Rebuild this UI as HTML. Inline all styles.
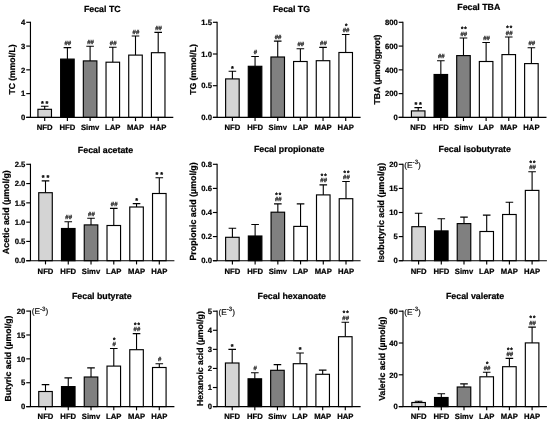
<!DOCTYPE html>
<html><head><meta charset="utf-8"><title>Fecal lipids and SCFA</title>
<style>
html,body{margin:0;padding:0;background:#fff;}
body{width:550px;height:424px;overflow:hidden;}
svg{display:block;font-family:"Liberation Sans", sans-serif;text-rendering:geometricPrecision;}
.b{font-weight:bold;stroke:#000;stroke-width:0.22px;}
</style></head><body>
<svg width="550" height="424" viewBox="0 0 550 424">
<rect width="550" height="424" fill="#fff"/>
<g><text x="102.3" y="11.8" text-anchor="middle" font-size="8.8" class="b">Fecal TC</text>
<path d="M44.7 109.3V106.2M40.9 106.2H48.5" stroke="#000" stroke-width="1.1" fill="none"/>
<rect x="37.93" y="109.3" width="13.55" height="8.1" fill="#d4d4d4" stroke="#000" stroke-width="1.15"/>
<path d="M44.7 117.4v3.7" stroke="#000" stroke-width="1.15"/>
<text x="44.7" y="130.2" text-anchor="middle" font-size="7.7" class="b">NFD</text>
<text x="45.6" y="105.5" text-anchor="middle" font-size="7.2" font-weight="bold" letter-spacing="1.8" fill="#000" stroke="#000" stroke-width="0.3">**</text>
<path d="M67.4 59.1V47.6M63.6 47.6H71.2" stroke="#000" stroke-width="1.1" fill="none"/>
<rect x="60.63" y="59.1" width="13.55" height="58.3" fill="#000000" stroke="#000" stroke-width="1.15"/>
<path d="M67.4 117.4v3.7" stroke="#000" stroke-width="1.15"/>
<text x="67.4" y="130.2" text-anchor="middle" font-size="7.7" class="b">HFD</text>
<text x="67.8" y="45.1" text-anchor="middle" font-size="6.0" font-weight="bold" fill="#333" stroke="#333" stroke-width="0.3">##</text>
<path d="M90.1 60.9V46.2M86.3 46.2H93.9" stroke="#000" stroke-width="1.1" fill="none"/>
<rect x="83.33" y="60.9" width="13.55" height="56.5" fill="#808080" stroke="#000" stroke-width="1.15"/>
<path d="M90.1 117.4v3.7" stroke="#000" stroke-width="1.15"/>
<text x="90.1" y="130.2" text-anchor="middle" font-size="7.7" class="b">Simv</text>
<text x="90.5" y="43.7" text-anchor="middle" font-size="6.0" font-weight="bold" fill="#333" stroke="#333" stroke-width="0.3">##</text>
<path d="M112.8 62.2V47.3M109 47.3H116.6" stroke="#000" stroke-width="1.1" fill="none"/>
<rect x="106.03" y="62.2" width="13.55" height="55.2" fill="#ffffff" stroke="#000" stroke-width="1.15"/>
<path d="M112.8 117.4v3.7" stroke="#000" stroke-width="1.15"/>
<text x="112.8" y="130.2" text-anchor="middle" font-size="7.7" class="b">LAP</text>
<text x="113.2" y="44.8" text-anchor="middle" font-size="6.0" font-weight="bold" fill="#333" stroke="#333" stroke-width="0.3">##</text>
<path d="M135.5 55.1V36M131.7 36H139.3" stroke="#000" stroke-width="1.1" fill="none"/>
<rect x="128.72" y="55.1" width="13.55" height="62.3" fill="#ffffff" stroke="#000" stroke-width="1.15"/>
<path d="M135.5 117.4v3.7" stroke="#000" stroke-width="1.15"/>
<text x="135.5" y="130.2" text-anchor="middle" font-size="7.7" class="b">MAP</text>
<text x="135.9" y="33.5" text-anchor="middle" font-size="6.0" font-weight="bold" fill="#333" stroke="#333" stroke-width="0.3">##</text>
<path d="M158.2 52.7V32.4M154.4 32.4H162" stroke="#000" stroke-width="1.1" fill="none"/>
<rect x="151.42" y="52.7" width="13.55" height="64.7" fill="#ffffff" stroke="#000" stroke-width="1.15"/>
<path d="M158.2 117.4v3.7" stroke="#000" stroke-width="1.15"/>
<text x="158.2" y="130.2" text-anchor="middle" font-size="7.7" class="b">HAP</text>
<text x="158.6" y="29.9" text-anchor="middle" font-size="6.0" font-weight="bold" fill="#333" stroke="#333" stroke-width="0.3">##</text>
<path d="M30.45 21.73V117.4M26.25 117.4H173.3" stroke="#000" stroke-width="1.15" fill="none"/>
<path d="M26.25 22.3H30.45" stroke="#000" stroke-width="1.15"/>
<text x="25.35" y="25" text-anchor="end" font-size="7.7" class="b">4</text>
<path d="M26.25 46.08H30.45" stroke="#000" stroke-width="1.15"/>
<text x="25.35" y="48.78" text-anchor="end" font-size="7.7" class="b">3</text>
<path d="M26.25 69.85H30.45" stroke="#000" stroke-width="1.15"/>
<text x="25.35" y="72.55" text-anchor="end" font-size="7.7" class="b">2</text>
<path d="M26.25 93.62H30.45" stroke="#000" stroke-width="1.15"/>
<text x="25.35" y="96.33" text-anchor="end" font-size="7.7" class="b">1</text>
<path d="M26.25 117.4H30.45" stroke="#000" stroke-width="1.15"/>
<text x="25.35" y="120.1" text-anchor="end" font-size="7.7" class="b">0</text>
<text transform="translate(15.4 69.55) rotate(-90)" text-anchor="middle" font-size="8.6" class="b">TC (mmol/L)</text></g>
<g><text x="291.5" y="11.8" text-anchor="middle" font-size="8.8" class="b">Fecal TG</text>
<path d="M232.4 78.9V71.3M228.6 71.3H236.2" stroke="#000" stroke-width="1.1" fill="none"/>
<rect x="225.62" y="78.9" width="13.55" height="38.5" fill="#d4d4d4" stroke="#000" stroke-width="1.15"/>
<path d="M232.4 117.4v3.7" stroke="#000" stroke-width="1.15"/>
<text x="232.4" y="130.2" text-anchor="middle" font-size="7.7" class="b">NFD</text>
<text x="232.4" y="70.6" text-anchor="middle" font-size="7.2" font-weight="bold" letter-spacing="0" fill="#000" stroke="#000" stroke-width="0.3">*</text>
<path d="M255.06 66.3V56.5M251.26 56.5H258.86" stroke="#000" stroke-width="1.1" fill="none"/>
<rect x="248.28" y="66.3" width="13.55" height="51.1" fill="#000000" stroke="#000" stroke-width="1.15"/>
<path d="M255.06 117.4v3.7" stroke="#000" stroke-width="1.15"/>
<text x="255.06" y="130.2" text-anchor="middle" font-size="7.7" class="b">HFD</text>
<text x="255.46" y="54" text-anchor="middle" font-size="6.0" font-weight="bold" fill="#333" stroke="#333" stroke-width="0.3">#</text>
<path d="M277.72 57V41.1M273.92 41.1H281.52" stroke="#000" stroke-width="1.1" fill="none"/>
<rect x="270.94" y="57" width="13.55" height="60.4" fill="#808080" stroke="#000" stroke-width="1.15"/>
<path d="M277.72 117.4v3.7" stroke="#000" stroke-width="1.15"/>
<text x="277.72" y="130.2" text-anchor="middle" font-size="7.7" class="b">Simv</text>
<text x="278.12" y="38.6" text-anchor="middle" font-size="6.0" font-weight="bold" fill="#333" stroke="#333" stroke-width="0.3">##</text>
<path d="M300.38 61.5V48.7M296.58 48.7H304.18" stroke="#000" stroke-width="1.1" fill="none"/>
<rect x="293.6" y="61.5" width="13.55" height="55.9" fill="#ffffff" stroke="#000" stroke-width="1.15"/>
<path d="M300.38 117.4v3.7" stroke="#000" stroke-width="1.15"/>
<text x="300.38" y="130.2" text-anchor="middle" font-size="7.7" class="b">LAP</text>
<text x="300.78" y="46.2" text-anchor="middle" font-size="6.0" font-weight="bold" fill="#333" stroke="#333" stroke-width="0.3">##</text>
<path d="M323.04 60.7V47.4M319.24 47.4H326.84" stroke="#000" stroke-width="1.1" fill="none"/>
<rect x="316.26" y="60.7" width="13.55" height="56.7" fill="#ffffff" stroke="#000" stroke-width="1.15"/>
<path d="M323.04 117.4v3.7" stroke="#000" stroke-width="1.15"/>
<text x="323.04" y="130.2" text-anchor="middle" font-size="7.7" class="b">MAP</text>
<text x="323.44" y="44.9" text-anchor="middle" font-size="6.0" font-weight="bold" fill="#333" stroke="#333" stroke-width="0.3">##</text>
<path d="M345.7 52.5V34.5M341.9 34.5H349.5" stroke="#000" stroke-width="1.1" fill="none"/>
<rect x="338.92" y="52.5" width="13.55" height="64.9" fill="#ffffff" stroke="#000" stroke-width="1.15"/>
<path d="M345.7 117.4v3.7" stroke="#000" stroke-width="1.15"/>
<text x="345.7" y="130.2" text-anchor="middle" font-size="7.7" class="b">HAP</text>
<text x="346.1" y="32" text-anchor="middle" font-size="6.0" font-weight="bold" fill="#333" stroke="#333" stroke-width="0.3">##</text>
<text x="346.1" y="27.7" text-anchor="middle" font-size="6.2" font-weight="bold" letter-spacing="0" fill="#000" stroke="#000" stroke-width="0.3">*</text>
<path d="M217.1 21.73V117.4M212.9 117.4H360.6" stroke="#000" stroke-width="1.15" fill="none"/>
<path d="M212.9 22.3H217.1" stroke="#000" stroke-width="1.15"/>
<text x="212" y="25" text-anchor="end" font-size="7.7" class="b">1.5</text>
<path d="M212.9 54H217.1" stroke="#000" stroke-width="1.15"/>
<text x="212" y="56.7" text-anchor="end" font-size="7.7" class="b">1.0</text>
<path d="M212.9 85.7H217.1" stroke="#000" stroke-width="1.15"/>
<text x="212" y="88.4" text-anchor="end" font-size="7.7" class="b">0.5</text>
<path d="M212.9 117.4H217.1" stroke="#000" stroke-width="1.15"/>
<text x="212" y="120.1" text-anchor="end" font-size="7.7" class="b">0.0</text>
<text transform="translate(196.4 69.55) rotate(-90)" text-anchor="middle" font-size="8.6" class="b">TG (mmol/L)</text></g>
<g><text x="478.8" y="9.6" text-anchor="middle" font-size="8.8" class="b">Fecal TBA</text>
<path d="M418.2 110.9V107.6M414.4 107.6H422" stroke="#000" stroke-width="1.1" fill="none"/>
<rect x="411.42" y="110.9" width="13.55" height="6.5" fill="#d4d4d4" stroke="#000" stroke-width="1.15"/>
<path d="M418.2 117.4v3.7" stroke="#000" stroke-width="1.15"/>
<text x="418.2" y="130.2" text-anchor="middle" font-size="7.7" class="b">NFD</text>
<text x="419.1" y="106.9" text-anchor="middle" font-size="7.2" font-weight="bold" letter-spacing="1.8" fill="#000" stroke="#000" stroke-width="0.3">**</text>
<path d="M440.84 74.5V60.8M437.04 60.8H444.64" stroke="#000" stroke-width="1.1" fill="none"/>
<rect x="434.06" y="74.5" width="13.55" height="42.9" fill="#000000" stroke="#000" stroke-width="1.15"/>
<path d="M440.84 117.4v3.7" stroke="#000" stroke-width="1.15"/>
<text x="440.84" y="130.2" text-anchor="middle" font-size="7.7" class="b">HFD</text>
<text x="441.24" y="58.3" text-anchor="middle" font-size="6.0" font-weight="bold" fill="#333" stroke="#333" stroke-width="0.3">##</text>
<path d="M463.48 55.6V38M459.68 38H467.28" stroke="#000" stroke-width="1.1" fill="none"/>
<rect x="456.7" y="55.6" width="13.55" height="61.8" fill="#808080" stroke="#000" stroke-width="1.15"/>
<path d="M463.48 117.4v3.7" stroke="#000" stroke-width="1.15"/>
<text x="463.48" y="130.2" text-anchor="middle" font-size="7.7" class="b">Simv</text>
<text x="463.88" y="35.5" text-anchor="middle" font-size="6.0" font-weight="bold" fill="#333" stroke="#333" stroke-width="0.3">##</text>
<text x="464.38" y="31.2" text-anchor="middle" font-size="6.2" font-weight="bold" letter-spacing="1.0" fill="#000" stroke="#000" stroke-width="0.3">**</text>
<path d="M486.12 61.5V42.5M482.32 42.5H489.92" stroke="#000" stroke-width="1.1" fill="none"/>
<rect x="479.34" y="61.5" width="13.55" height="55.9" fill="#ffffff" stroke="#000" stroke-width="1.15"/>
<path d="M486.12 117.4v3.7" stroke="#000" stroke-width="1.15"/>
<text x="486.12" y="130.2" text-anchor="middle" font-size="7.7" class="b">LAP</text>
<text x="486.52" y="40" text-anchor="middle" font-size="6.0" font-weight="bold" fill="#333" stroke="#333" stroke-width="0.3">##</text>
<path d="M508.76 54.6V37M504.96 37H512.56" stroke="#000" stroke-width="1.1" fill="none"/>
<rect x="501.98" y="54.6" width="13.55" height="62.8" fill="#ffffff" stroke="#000" stroke-width="1.15"/>
<path d="M508.76 117.4v3.7" stroke="#000" stroke-width="1.15"/>
<text x="508.76" y="130.2" text-anchor="middle" font-size="7.7" class="b">MAP</text>
<text x="509.16" y="34.5" text-anchor="middle" font-size="6.0" font-weight="bold" fill="#333" stroke="#333" stroke-width="0.3">##</text>
<text x="509.66" y="30.2" text-anchor="middle" font-size="6.2" font-weight="bold" letter-spacing="1.0" fill="#000" stroke="#000" stroke-width="0.3">**</text>
<path d="M531.4 63.6V47.7M527.6 47.7H535.2" stroke="#000" stroke-width="1.1" fill="none"/>
<rect x="524.62" y="63.6" width="13.55" height="53.8" fill="#ffffff" stroke="#000" stroke-width="1.15"/>
<path d="M531.4 117.4v3.7" stroke="#000" stroke-width="1.15"/>
<text x="531.4" y="130.2" text-anchor="middle" font-size="7.7" class="b">HAP</text>
<text x="531.8" y="45.2" text-anchor="middle" font-size="6.0" font-weight="bold" fill="#333" stroke="#333" stroke-width="0.3">##</text>
<path d="M402.9 21.73V117.4M398.7 117.4H546.5" stroke="#000" stroke-width="1.15" fill="none"/>
<path d="M398.7 22.3H402.9" stroke="#000" stroke-width="1.15"/>
<text x="397.8" y="25" text-anchor="end" font-size="7.7" class="b">800</text>
<path d="M398.7 46.08H402.9" stroke="#000" stroke-width="1.15"/>
<text x="397.8" y="48.78" text-anchor="end" font-size="7.7" class="b">600</text>
<path d="M398.7 69.85H402.9" stroke="#000" stroke-width="1.15"/>
<text x="397.8" y="72.55" text-anchor="end" font-size="7.7" class="b">400</text>
<path d="M398.7 93.62H402.9" stroke="#000" stroke-width="1.15"/>
<text x="397.8" y="96.33" text-anchor="end" font-size="7.7" class="b">200</text>
<path d="M398.7 117.4H402.9" stroke="#000" stroke-width="1.15"/>
<text x="397.8" y="120.1" text-anchor="end" font-size="7.7" class="b">0</text>
<text transform="translate(380 69.55) rotate(-90)" text-anchor="middle" font-size="8.6" class="b">TBA (µmol/gprot)</text></g>
<g><text x="105.5" y="152.5" text-anchor="middle" font-size="8.8" class="b">Fecal acetate</text>
<path d="M45.5 192.7V180.9M41.7 180.9H49.3" stroke="#000" stroke-width="1.1" fill="none"/>
<rect x="38.73" y="192.7" width="13.55" height="68" fill="#d4d4d4" stroke="#000" stroke-width="1.15"/>
<path d="M45.5 260.7v3.7" stroke="#000" stroke-width="1.15"/>
<text x="45.5" y="273.5" text-anchor="middle" font-size="7.7" class="b">NFD</text>
<text x="46.4" y="180.2" text-anchor="middle" font-size="7.2" font-weight="bold" letter-spacing="1.8" fill="#000" stroke="#000" stroke-width="0.3">**</text>
<path d="M68.26 228.5V221.8M64.46 221.8H72.06" stroke="#000" stroke-width="1.1" fill="none"/>
<rect x="61.49" y="228.5" width="13.55" height="32.2" fill="#000000" stroke="#000" stroke-width="1.15"/>
<path d="M68.26 260.7v3.7" stroke="#000" stroke-width="1.15"/>
<text x="68.26" y="273.5" text-anchor="middle" font-size="7.7" class="b">HFD</text>
<text x="68.66" y="219.3" text-anchor="middle" font-size="6.0" font-weight="bold" fill="#333" stroke="#333" stroke-width="0.3">##</text>
<path d="M91.02 224.9V218.2M87.22 218.2H94.82" stroke="#000" stroke-width="1.1" fill="none"/>
<rect x="84.25" y="224.9" width="13.55" height="35.8" fill="#808080" stroke="#000" stroke-width="1.15"/>
<path d="M91.02 260.7v3.7" stroke="#000" stroke-width="1.15"/>
<text x="91.02" y="273.5" text-anchor="middle" font-size="7.7" class="b">Simv</text>
<text x="91.42" y="215.7" text-anchor="middle" font-size="6.0" font-weight="bold" fill="#333" stroke="#333" stroke-width="0.3">##</text>
<path d="M113.78 225.5V208.4M109.98 208.4H117.58" stroke="#000" stroke-width="1.1" fill="none"/>
<rect x="107.01" y="225.5" width="13.55" height="35.2" fill="#ffffff" stroke="#000" stroke-width="1.15"/>
<path d="M113.78 260.7v3.7" stroke="#000" stroke-width="1.15"/>
<text x="113.78" y="273.5" text-anchor="middle" font-size="7.7" class="b">LAP</text>
<text x="114.18" y="205.9" text-anchor="middle" font-size="6.0" font-weight="bold" fill="#333" stroke="#333" stroke-width="0.3">##</text>
<path d="M136.54 207V203.6M132.74 203.6H140.34" stroke="#000" stroke-width="1.1" fill="none"/>
<rect x="129.77" y="207" width="13.55" height="53.7" fill="#ffffff" stroke="#000" stroke-width="1.15"/>
<path d="M136.54 260.7v3.7" stroke="#000" stroke-width="1.15"/>
<text x="136.54" y="273.5" text-anchor="middle" font-size="7.7" class="b">MAP</text>
<text x="136.54" y="202.9" text-anchor="middle" font-size="7.2" font-weight="bold" letter-spacing="0" fill="#000" stroke="#000" stroke-width="0.3">*</text>
<path d="M159.3 193.5V177.7M155.5 177.7H163.1" stroke="#000" stroke-width="1.1" fill="none"/>
<rect x="152.53" y="193.5" width="13.55" height="67.2" fill="#ffffff" stroke="#000" stroke-width="1.15"/>
<path d="M159.3 260.7v3.7" stroke="#000" stroke-width="1.15"/>
<text x="159.3" y="273.5" text-anchor="middle" font-size="7.7" class="b">HAP</text>
<text x="160.2" y="177" text-anchor="middle" font-size="7.2" font-weight="bold" letter-spacing="1.8" fill="#000" stroke="#000" stroke-width="0.3">**</text>
<path d="M30.45 163.73V260.7M26.25 260.7H174.4" stroke="#000" stroke-width="1.15" fill="none"/>
<path d="M26.25 164.3H30.45" stroke="#000" stroke-width="1.15"/>
<text x="25.35" y="167" text-anchor="end" font-size="7.7" class="b">2.5</text>
<path d="M26.25 183.58H30.45" stroke="#000" stroke-width="1.15"/>
<text x="25.35" y="186.28" text-anchor="end" font-size="7.7" class="b">2.0</text>
<path d="M26.25 202.86H30.45" stroke="#000" stroke-width="1.15"/>
<text x="25.35" y="205.56" text-anchor="end" font-size="7.7" class="b">1.5</text>
<path d="M26.25 222.14H30.45" stroke="#000" stroke-width="1.15"/>
<text x="25.35" y="224.84" text-anchor="end" font-size="7.7" class="b">1.0</text>
<path d="M26.25 241.42H30.45" stroke="#000" stroke-width="1.15"/>
<text x="25.35" y="244.12" text-anchor="end" font-size="7.7" class="b">0.5</text>
<path d="M26.25 260.7H30.45" stroke="#000" stroke-width="1.15"/>
<text x="25.35" y="263.4" text-anchor="end" font-size="7.7" class="b">0.0</text>
<text transform="translate(9.3 212.2) rotate(-90)" text-anchor="middle" font-size="8.9" class="b">Acetic acid (µmol/g)</text></g>
<g><text x="289.1" y="152.4" text-anchor="middle" font-size="8.8" class="b">Fecal propionate</text>
<path d="M232.4 237.3V228.2M228.6 228.2H236.2" stroke="#000" stroke-width="1.1" fill="none"/>
<rect x="225.62" y="237.3" width="13.55" height="23.4" fill="#d4d4d4" stroke="#000" stroke-width="1.15"/>
<path d="M232.4 260.7v3.7" stroke="#000" stroke-width="1.15"/>
<text x="232.4" y="273.5" text-anchor="middle" font-size="7.7" class="b">NFD</text>
<path d="M255.12 236V224.5M251.32 224.5H258.92" stroke="#000" stroke-width="1.1" fill="none"/>
<rect x="248.34" y="236" width="13.55" height="24.7" fill="#000000" stroke="#000" stroke-width="1.15"/>
<path d="M255.12 260.7v3.7" stroke="#000" stroke-width="1.15"/>
<text x="255.12" y="273.5" text-anchor="middle" font-size="7.7" class="b">HFD</text>
<path d="M277.84 212.2V203.9M274.04 203.9H281.64" stroke="#000" stroke-width="1.1" fill="none"/>
<rect x="271.06" y="212.2" width="13.55" height="48.5" fill="#808080" stroke="#000" stroke-width="1.15"/>
<path d="M277.84 260.7v3.7" stroke="#000" stroke-width="1.15"/>
<text x="277.84" y="273.5" text-anchor="middle" font-size="7.7" class="b">Simv</text>
<text x="278.24" y="201.4" text-anchor="middle" font-size="6.0" font-weight="bold" fill="#333" stroke="#333" stroke-width="0.3">##</text>
<text x="278.74" y="197.1" text-anchor="middle" font-size="6.2" font-weight="bold" letter-spacing="1.0" fill="#000" stroke="#000" stroke-width="0.3">**</text>
<path d="M300.56 226.4V203.9M296.76 203.9H304.36" stroke="#000" stroke-width="1.1" fill="none"/>
<rect x="293.78" y="226.4" width="13.55" height="34.3" fill="#ffffff" stroke="#000" stroke-width="1.15"/>
<path d="M300.56 260.7v3.7" stroke="#000" stroke-width="1.15"/>
<text x="300.56" y="273.5" text-anchor="middle" font-size="7.7" class="b">LAP</text>
<path d="M323.28 194.9V184.9M319.48 184.9H327.08" stroke="#000" stroke-width="1.1" fill="none"/>
<rect x="316.5" y="194.9" width="13.55" height="65.8" fill="#ffffff" stroke="#000" stroke-width="1.15"/>
<path d="M323.28 260.7v3.7" stroke="#000" stroke-width="1.15"/>
<text x="323.28" y="273.5" text-anchor="middle" font-size="7.7" class="b">MAP</text>
<text x="323.68" y="182.4" text-anchor="middle" font-size="6.0" font-weight="bold" fill="#333" stroke="#333" stroke-width="0.3">##</text>
<text x="324.18" y="178.1" text-anchor="middle" font-size="6.2" font-weight="bold" letter-spacing="1.0" fill="#000" stroke="#000" stroke-width="0.3">**</text>
<path d="M346 198.7V181.5M342.2 181.5H349.8" stroke="#000" stroke-width="1.1" fill="none"/>
<rect x="339.22" y="198.7" width="13.55" height="62" fill="#ffffff" stroke="#000" stroke-width="1.15"/>
<path d="M346 260.7v3.7" stroke="#000" stroke-width="1.15"/>
<text x="346" y="273.5" text-anchor="middle" font-size="7.7" class="b">HAP</text>
<text x="346.4" y="179" text-anchor="middle" font-size="6.0" font-weight="bold" fill="#333" stroke="#333" stroke-width="0.3">##</text>
<text x="346.9" y="174.7" text-anchor="middle" font-size="6.2" font-weight="bold" letter-spacing="1.0" fill="#000" stroke="#000" stroke-width="0.3">**</text>
<path d="M217.1 163.73V260.7M212.9 260.7H360.6" stroke="#000" stroke-width="1.15" fill="none"/>
<path d="M212.9 164.3H217.1" stroke="#000" stroke-width="1.15"/>
<text x="212" y="167" text-anchor="end" font-size="7.7" class="b">0.8</text>
<path d="M212.9 188.4H217.1" stroke="#000" stroke-width="1.15"/>
<text x="212" y="191.1" text-anchor="end" font-size="7.7" class="b">0.6</text>
<path d="M212.9 212.5H217.1" stroke="#000" stroke-width="1.15"/>
<text x="212" y="215.2" text-anchor="end" font-size="7.7" class="b">0.4</text>
<path d="M212.9 236.6H217.1" stroke="#000" stroke-width="1.15"/>
<text x="212" y="239.3" text-anchor="end" font-size="7.7" class="b">0.2</text>
<path d="M212.9 260.7H217.1" stroke="#000" stroke-width="1.15"/>
<text x="212" y="263.4" text-anchor="end" font-size="7.7" class="b">0.0</text>
<text transform="translate(196.2 211.4) rotate(-90)" text-anchor="middle" font-size="8.9" class="b">Propionic acid (µmol/g)</text></g>
<g><text x="474.7" y="152.4" text-anchor="middle" font-size="8.8" class="b">Fecal isobutyrate</text>
<path d="M418.6 226.7V213.3M414.8 213.3H422.4" stroke="#000" stroke-width="1.1" fill="none"/>
<rect x="411.82" y="226.7" width="13.55" height="34" fill="#d4d4d4" stroke="#000" stroke-width="1.15"/>
<path d="M418.6 260.7v3.7" stroke="#000" stroke-width="1.15"/>
<text x="418.6" y="273.5" text-anchor="middle" font-size="7.7" class="b">NFD</text>
<path d="M441.3 230.9V218.7M437.5 218.7H445.1" stroke="#000" stroke-width="1.1" fill="none"/>
<rect x="434.52" y="230.9" width="13.55" height="29.8" fill="#000000" stroke="#000" stroke-width="1.15"/>
<path d="M441.3 260.7v3.7" stroke="#000" stroke-width="1.15"/>
<text x="441.3" y="273.5" text-anchor="middle" font-size="7.7" class="b">HFD</text>
<path d="M464 223.6V217.1M460.2 217.1H467.8" stroke="#000" stroke-width="1.1" fill="none"/>
<rect x="457.22" y="223.6" width="13.55" height="37.1" fill="#808080" stroke="#000" stroke-width="1.15"/>
<path d="M464 260.7v3.7" stroke="#000" stroke-width="1.15"/>
<text x="464" y="273.5" text-anchor="middle" font-size="7.7" class="b">Simv</text>
<path d="M486.7 231.5V215.1M482.9 215.1H490.5" stroke="#000" stroke-width="1.1" fill="none"/>
<rect x="479.93" y="231.5" width="13.55" height="29.2" fill="#ffffff" stroke="#000" stroke-width="1.15"/>
<path d="M486.7 260.7v3.7" stroke="#000" stroke-width="1.15"/>
<text x="486.7" y="273.5" text-anchor="middle" font-size="7.7" class="b">LAP</text>
<path d="M509.4 214.5V202.2M505.6 202.2H513.2" stroke="#000" stroke-width="1.1" fill="none"/>
<rect x="502.62" y="214.5" width="13.55" height="46.2" fill="#ffffff" stroke="#000" stroke-width="1.15"/>
<path d="M509.4 260.7v3.7" stroke="#000" stroke-width="1.15"/>
<text x="509.4" y="273.5" text-anchor="middle" font-size="7.7" class="b">MAP</text>
<path d="M532.1 190.4V171.8M528.3 171.8H535.9" stroke="#000" stroke-width="1.1" fill="none"/>
<rect x="525.33" y="190.4" width="13.55" height="70.3" fill="#ffffff" stroke="#000" stroke-width="1.15"/>
<path d="M532.1 260.7v3.7" stroke="#000" stroke-width="1.15"/>
<text x="532.1" y="273.5" text-anchor="middle" font-size="7.7" class="b">HAP</text>
<text x="532.5" y="169.3" text-anchor="middle" font-size="6.0" font-weight="bold" fill="#333" stroke="#333" stroke-width="0.3">##</text>
<text x="533" y="165" text-anchor="middle" font-size="6.2" font-weight="bold" letter-spacing="1.0" fill="#000" stroke="#000" stroke-width="0.3">**</text>
<path d="M403 163.73V260.7M398.8 260.7H546.9" stroke="#000" stroke-width="1.15" fill="none"/>
<path d="M398.8 164.3H403" stroke="#000" stroke-width="1.15"/>
<text x="397.9" y="167" text-anchor="end" font-size="7.7" class="b">20</text>
<path d="M398.8 188.4H403" stroke="#000" stroke-width="1.15"/>
<text x="397.9" y="191.1" text-anchor="end" font-size="7.7" class="b">15</text>
<path d="M398.8 212.5H403" stroke="#000" stroke-width="1.15"/>
<text x="397.9" y="215.2" text-anchor="end" font-size="7.7" class="b">10</text>
<path d="M398.8 236.6H403" stroke="#000" stroke-width="1.15"/>
<text x="397.9" y="239.3" text-anchor="end" font-size="7.7" class="b">5</text>
<path d="M398.8 260.7H403" stroke="#000" stroke-width="1.15"/>
<text x="397.9" y="263.4" text-anchor="end" font-size="7.7" class="b">0</text>
<text transform="translate(384.4 212.7) rotate(-90)" text-anchor="middle" font-size="8.9" class="b">Isobutyric acid (µmol/g)</text>
<text x="404.3" y="167.6" font-size="8.3" fill="#111" stroke="#111" stroke-width="0.2">(E<tspan dy="-3.7" font-size="6.2">-3</tspan><tspan dy="3.7">)</tspan></text></g>
<g><text x="101.8" y="298.7" text-anchor="middle" font-size="8.8" class="b">Fecal butyrate</text>
<path d="M45.5 391.5V384.6M41.7 384.6H49.3" stroke="#000" stroke-width="1.1" fill="none"/>
<rect x="38.73" y="391.5" width="13.55" height="15.1" fill="#d4d4d4" stroke="#000" stroke-width="1.15"/>
<path d="M45.5 406.6v3.7" stroke="#000" stroke-width="1.15"/>
<text x="45.5" y="419.4" text-anchor="middle" font-size="7.7" class="b">NFD</text>
<path d="M68.26 386.6V377.9M64.46 377.9H72.06" stroke="#000" stroke-width="1.1" fill="none"/>
<rect x="61.49" y="386.6" width="13.55" height="20" fill="#000000" stroke="#000" stroke-width="1.15"/>
<path d="M68.26 406.6v3.7" stroke="#000" stroke-width="1.15"/>
<text x="68.26" y="419.4" text-anchor="middle" font-size="7.7" class="b">HFD</text>
<path d="M91.02 377V367.9M87.22 367.9H94.82" stroke="#000" stroke-width="1.1" fill="none"/>
<rect x="84.25" y="377" width="13.55" height="29.6" fill="#808080" stroke="#000" stroke-width="1.15"/>
<path d="M91.02 406.6v3.7" stroke="#000" stroke-width="1.15"/>
<text x="91.02" y="419.4" text-anchor="middle" font-size="7.7" class="b">Simv</text>
<path d="M113.78 366.1V348.5M109.98 348.5H117.58" stroke="#000" stroke-width="1.1" fill="none"/>
<rect x="107.01" y="366.1" width="13.55" height="40.5" fill="#ffffff" stroke="#000" stroke-width="1.15"/>
<path d="M113.78 406.6v3.7" stroke="#000" stroke-width="1.15"/>
<text x="113.78" y="419.4" text-anchor="middle" font-size="7.7" class="b">LAP</text>
<text x="114.18" y="346" text-anchor="middle" font-size="6.0" font-weight="bold" fill="#333" stroke="#333" stroke-width="0.3">#</text>
<text x="114.18" y="341.7" text-anchor="middle" font-size="6.2" font-weight="bold" letter-spacing="0" fill="#000" stroke="#000" stroke-width="0.3">*</text>
<path d="M136.54 349.7V333.6M132.74 333.6H140.34" stroke="#000" stroke-width="1.1" fill="none"/>
<rect x="129.77" y="349.7" width="13.55" height="56.9" fill="#ffffff" stroke="#000" stroke-width="1.15"/>
<path d="M136.54 406.6v3.7" stroke="#000" stroke-width="1.15"/>
<text x="136.54" y="419.4" text-anchor="middle" font-size="7.7" class="b">MAP</text>
<text x="136.94" y="331.1" text-anchor="middle" font-size="6.0" font-weight="bold" fill="#333" stroke="#333" stroke-width="0.3">##</text>
<text x="137.44" y="326.8" text-anchor="middle" font-size="6.2" font-weight="bold" letter-spacing="1.0" fill="#000" stroke="#000" stroke-width="0.3">**</text>
<path d="M159.3 367.5V363.7M155.5 363.7H163.1" stroke="#000" stroke-width="1.1" fill="none"/>
<rect x="152.53" y="367.5" width="13.55" height="39.1" fill="#ffffff" stroke="#000" stroke-width="1.15"/>
<path d="M159.3 406.6v3.7" stroke="#000" stroke-width="1.15"/>
<text x="159.3" y="419.4" text-anchor="middle" font-size="7.7" class="b">HAP</text>
<text x="159.7" y="361.2" text-anchor="middle" font-size="6.0" font-weight="bold" fill="#333" stroke="#333" stroke-width="0.3">#</text>
<path d="M30.45 310.53V406.6M26.25 406.6H174.4" stroke="#000" stroke-width="1.15" fill="none"/>
<path d="M26.25 311.1H30.45" stroke="#000" stroke-width="1.15"/>
<text x="25.35" y="313.8" text-anchor="end" font-size="7.7" class="b">20</text>
<path d="M26.25 334.98H30.45" stroke="#000" stroke-width="1.15"/>
<text x="25.35" y="337.68" text-anchor="end" font-size="7.7" class="b">15</text>
<path d="M26.25 358.85H30.45" stroke="#000" stroke-width="1.15"/>
<text x="25.35" y="361.55" text-anchor="end" font-size="7.7" class="b">10</text>
<path d="M26.25 382.73H30.45" stroke="#000" stroke-width="1.15"/>
<text x="25.35" y="385.43" text-anchor="end" font-size="7.7" class="b">5</text>
<path d="M26.25 406.6H30.45" stroke="#000" stroke-width="1.15"/>
<text x="25.35" y="409.3" text-anchor="end" font-size="7.7" class="b">0</text>
<text transform="translate(11.4 358.55) rotate(-90)" text-anchor="middle" font-size="8.7" class="b">Butyric acid (µmol/g)</text>
<text x="31.75" y="314.4" font-size="8.3" fill="#111" stroke="#111" stroke-width="0.2">(E<tspan dy="-3.7" font-size="6.2">-3</tspan><tspan dy="3.7">)</tspan></text></g>
<g><text x="291.8" y="298.6" text-anchor="middle" font-size="8.8" class="b">Fecal hexanoate</text>
<path d="M232.2 363V349.4M228.4 349.4H236" stroke="#000" stroke-width="1.1" fill="none"/>
<rect x="225.42" y="363" width="13.55" height="43.6" fill="#d4d4d4" stroke="#000" stroke-width="1.15"/>
<path d="M232.2 406.6v3.7" stroke="#000" stroke-width="1.15"/>
<text x="232.2" y="419.4" text-anchor="middle" font-size="7.7" class="b">NFD</text>
<text x="232.2" y="348.7" text-anchor="middle" font-size="7.2" font-weight="bold" letter-spacing="0" fill="#000" stroke="#000" stroke-width="0.3">*</text>
<path d="M254.82 378.8V372.8M251.02 372.8H258.62" stroke="#000" stroke-width="1.1" fill="none"/>
<rect x="248.04" y="378.8" width="13.55" height="27.8" fill="#000000" stroke="#000" stroke-width="1.15"/>
<path d="M254.82 406.6v3.7" stroke="#000" stroke-width="1.15"/>
<text x="254.82" y="419.4" text-anchor="middle" font-size="7.7" class="b">HFD</text>
<text x="255.22" y="370.3" text-anchor="middle" font-size="6.0" font-weight="bold" fill="#333" stroke="#333" stroke-width="0.3">#</text>
<path d="M277.44 370.3V364.6M273.64 364.6H281.24" stroke="#000" stroke-width="1.1" fill="none"/>
<rect x="270.66" y="370.3" width="13.55" height="36.3" fill="#808080" stroke="#000" stroke-width="1.15"/>
<path d="M277.44 406.6v3.7" stroke="#000" stroke-width="1.15"/>
<text x="277.44" y="419.4" text-anchor="middle" font-size="7.7" class="b">Simv</text>
<path d="M300.06 363.7V353M296.26 353H303.86" stroke="#000" stroke-width="1.1" fill="none"/>
<rect x="293.28" y="363.7" width="13.55" height="42.9" fill="#ffffff" stroke="#000" stroke-width="1.15"/>
<path d="M300.06 406.6v3.7" stroke="#000" stroke-width="1.15"/>
<text x="300.06" y="419.4" text-anchor="middle" font-size="7.7" class="b">LAP</text>
<text x="300.06" y="352.3" text-anchor="middle" font-size="7.2" font-weight="bold" letter-spacing="0" fill="#000" stroke="#000" stroke-width="0.3">*</text>
<path d="M322.68 374.3V370.1M318.88 370.1H326.48" stroke="#000" stroke-width="1.1" fill="none"/>
<rect x="315.9" y="374.3" width="13.55" height="32.3" fill="#ffffff" stroke="#000" stroke-width="1.15"/>
<path d="M322.68 406.6v3.7" stroke="#000" stroke-width="1.15"/>
<text x="322.68" y="419.4" text-anchor="middle" font-size="7.7" class="b">MAP</text>
<path d="M345.3 336.7V322.2M341.5 322.2H349.1" stroke="#000" stroke-width="1.1" fill="none"/>
<rect x="338.52" y="336.7" width="13.55" height="69.9" fill="#ffffff" stroke="#000" stroke-width="1.15"/>
<path d="M345.3 406.6v3.7" stroke="#000" stroke-width="1.15"/>
<text x="345.3" y="419.4" text-anchor="middle" font-size="7.7" class="b">HAP</text>
<text x="345.7" y="319.7" text-anchor="middle" font-size="6.0" font-weight="bold" fill="#333" stroke="#333" stroke-width="0.3">##</text>
<text x="346.2" y="315.4" text-anchor="middle" font-size="6.2" font-weight="bold" letter-spacing="1.0" fill="#000" stroke="#000" stroke-width="0.3">**</text>
<path d="M217.1 310.62V406.6M212.9 406.6H360.6" stroke="#000" stroke-width="1.15" fill="none"/>
<path d="M212.9 311.2H217.1" stroke="#000" stroke-width="1.15"/>
<text x="212" y="313.9" text-anchor="end" font-size="7.7" class="b">5</text>
<path d="M212.9 330.28H217.1" stroke="#000" stroke-width="1.15"/>
<text x="212" y="332.98" text-anchor="end" font-size="7.7" class="b">4</text>
<path d="M212.9 349.36H217.1" stroke="#000" stroke-width="1.15"/>
<text x="212" y="352.06" text-anchor="end" font-size="7.7" class="b">3</text>
<path d="M212.9 368.44H217.1" stroke="#000" stroke-width="1.15"/>
<text x="212" y="371.14" text-anchor="end" font-size="7.7" class="b">2</text>
<path d="M212.9 387.52H217.1" stroke="#000" stroke-width="1.15"/>
<text x="212" y="390.22" text-anchor="end" font-size="7.7" class="b">1</text>
<path d="M212.9 406.6H217.1" stroke="#000" stroke-width="1.15"/>
<text x="212" y="409.3" text-anchor="end" font-size="7.7" class="b">0</text>
<text transform="translate(203.3 358.6) rotate(-90)" text-anchor="middle" font-size="8.7" class="b">Hexanoic acid (µmol/g)</text>
<text x="218.4" y="314.5" font-size="8.3" fill="#111" stroke="#111" stroke-width="0.2">(E<tspan dy="-3.7" font-size="6.2">-3</tspan><tspan dy="3.7">)</tspan></text></g>
<g><text x="475.1" y="298.6" text-anchor="middle" font-size="8.8" class="b">Fecal valerate</text>
<path d="M418.6 402.5V401.3M414.8 401.3H422.4" stroke="#000" stroke-width="1.1" fill="none"/>
<rect x="411.82" y="402.5" width="13.55" height="4.1" fill="#d4d4d4" stroke="#000" stroke-width="1.15"/>
<path d="M418.6 406.6v3.7" stroke="#000" stroke-width="1.15"/>
<text x="418.6" y="419.4" text-anchor="middle" font-size="7.7" class="b">NFD</text>
<path d="M441.3 397.5V393.7M437.5 393.7H445.1" stroke="#000" stroke-width="1.1" fill="none"/>
<rect x="434.52" y="397.5" width="13.55" height="9.1" fill="#000000" stroke="#000" stroke-width="1.15"/>
<path d="M441.3 406.6v3.7" stroke="#000" stroke-width="1.15"/>
<text x="441.3" y="419.4" text-anchor="middle" font-size="7.7" class="b">HFD</text>
<path d="M464 387V383.9M460.2 383.9H467.8" stroke="#000" stroke-width="1.1" fill="none"/>
<rect x="457.22" y="387" width="13.55" height="19.6" fill="#808080" stroke="#000" stroke-width="1.15"/>
<path d="M464 406.6v3.7" stroke="#000" stroke-width="1.15"/>
<text x="464" y="419.4" text-anchor="middle" font-size="7.7" class="b">Simv</text>
<path d="M486.7 376.8V372.3M482.9 372.3H490.5" stroke="#000" stroke-width="1.1" fill="none"/>
<rect x="479.93" y="376.8" width="13.55" height="29.8" fill="#ffffff" stroke="#000" stroke-width="1.15"/>
<path d="M486.7 406.6v3.7" stroke="#000" stroke-width="1.15"/>
<text x="486.7" y="419.4" text-anchor="middle" font-size="7.7" class="b">LAP</text>
<text x="487.1" y="369.8" text-anchor="middle" font-size="6.0" font-weight="bold" fill="#333" stroke="#333" stroke-width="0.3">##</text>
<text x="487.1" y="365.5" text-anchor="middle" font-size="6.2" font-weight="bold" letter-spacing="0" fill="#000" stroke="#000" stroke-width="0.3">*</text>
<path d="M509.4 366.7V358.4M505.6 358.4H513.2" stroke="#000" stroke-width="1.1" fill="none"/>
<rect x="502.62" y="366.7" width="13.55" height="39.9" fill="#ffffff" stroke="#000" stroke-width="1.15"/>
<path d="M509.4 406.6v3.7" stroke="#000" stroke-width="1.15"/>
<text x="509.4" y="419.4" text-anchor="middle" font-size="7.7" class="b">MAP</text>
<text x="509.8" y="355.9" text-anchor="middle" font-size="6.0" font-weight="bold" fill="#333" stroke="#333" stroke-width="0.3">##</text>
<text x="510.3" y="351.6" text-anchor="middle" font-size="6.2" font-weight="bold" letter-spacing="1.0" fill="#000" stroke="#000" stroke-width="0.3">**</text>
<path d="M532.1 342.9V327.1M528.3 327.1H535.9" stroke="#000" stroke-width="1.1" fill="none"/>
<rect x="525.33" y="342.9" width="13.55" height="63.7" fill="#ffffff" stroke="#000" stroke-width="1.15"/>
<path d="M532.1 406.6v3.7" stroke="#000" stroke-width="1.15"/>
<text x="532.1" y="419.4" text-anchor="middle" font-size="7.7" class="b">HAP</text>
<text x="532.5" y="324.6" text-anchor="middle" font-size="6.0" font-weight="bold" fill="#333" stroke="#333" stroke-width="0.3">##</text>
<text x="533" y="320.3" text-anchor="middle" font-size="6.2" font-weight="bold" letter-spacing="1.0" fill="#000" stroke="#000" stroke-width="0.3">**</text>
<path d="M403 310.62V406.6M398.8 406.6H546.9" stroke="#000" stroke-width="1.15" fill="none"/>
<path d="M398.8 311.2H403" stroke="#000" stroke-width="1.15"/>
<text x="397.9" y="313.9" text-anchor="end" font-size="7.7" class="b">60</text>
<path d="M398.8 343H403" stroke="#000" stroke-width="1.15"/>
<text x="397.9" y="345.7" text-anchor="end" font-size="7.7" class="b">40</text>
<path d="M398.8 374.8H403" stroke="#000" stroke-width="1.15"/>
<text x="397.9" y="377.5" text-anchor="end" font-size="7.7" class="b">20</text>
<path d="M398.8 406.6H403" stroke="#000" stroke-width="1.15"/>
<text x="397.9" y="409.3" text-anchor="end" font-size="7.7" class="b">0</text>
<text transform="translate(384.9 358.6) rotate(-90)" text-anchor="middle" font-size="8.7" class="b">Valeric acid (µmol/g)</text>
<text x="404.3" y="314.5" font-size="8.3" fill="#111" stroke="#111" stroke-width="0.2">(E<tspan dy="-3.7" font-size="6.2">-3</tspan><tspan dy="3.7">)</tspan></text></g>
</svg>
</body></html>
